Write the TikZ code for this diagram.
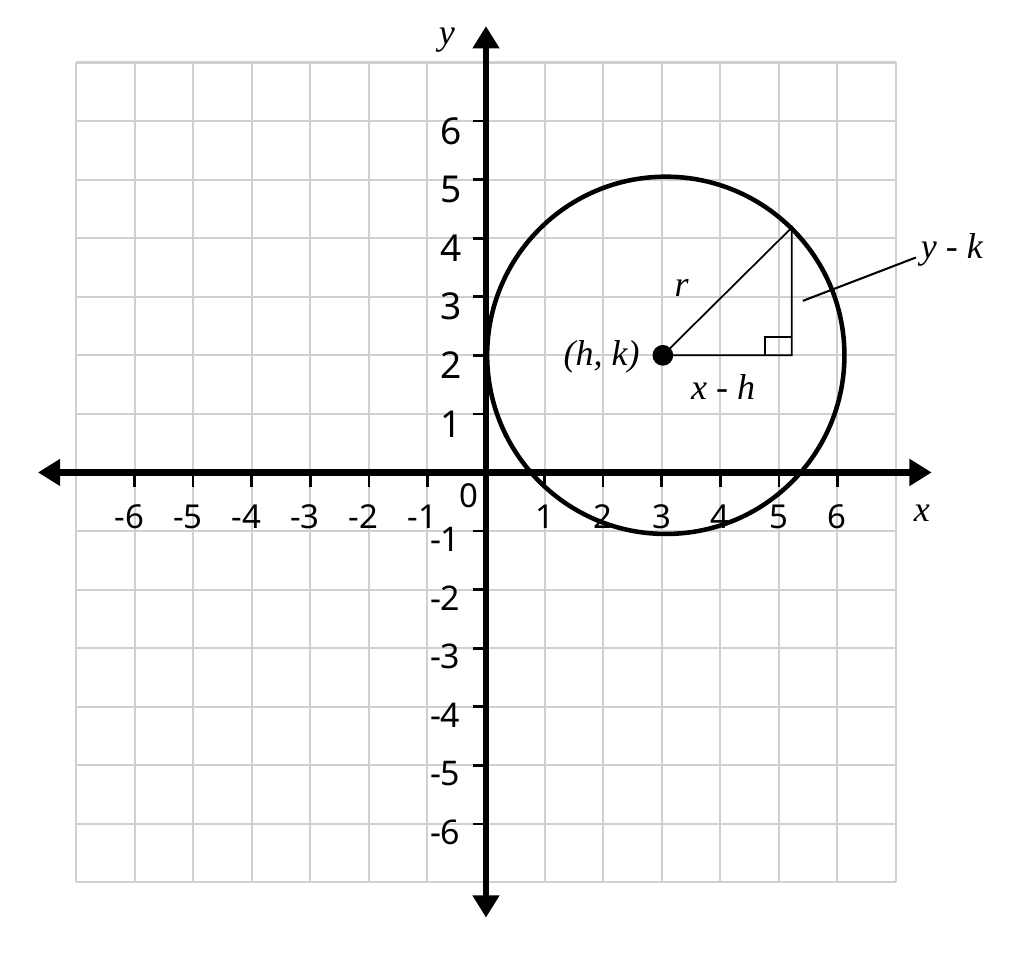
\documentclass[tikz,border=0pt]{standalone}
\usepackage{fontspec}
\setmainfont{Liberation Serif}
\newfontfamily\numfont{Noto Sans}
\usetikzlibrary{arrows.meta}
\definecolor{gridgray}{RGB}{208,208,208}
\begin{document}
\begin{tikzpicture}[
  gridline/.style={draw=gridgray, line width=1pt},
  axisline/.style={line width=3pt, {Triangle[length=0.38cm,width=0.44cm]}-{Triangle[length=0.38cm,width=0.44cm]}},
  tickmark/.style={line width=1.3pt},
  circ/.style={line width=2.2pt},
  thinline/.style={line width=0.85pt},
  xnum/.style={font=\numfont\fontsize{16}{18}\selectfont, inner sep=0pt},
  ypnum/.style={font=\numfont\fontsize{18}{20}\selectfont, inner sep=0pt, anchor=east},
  ynnum/.style={font=\numfont\fontsize{16.5}{18}\selectfont, inner sep=0pt, anchor=east},
  lbl/.style={font=\itshape\fontsize{17.5}{19}\selectfont, inner sep=0pt}
]
\useasboundingbox (-8.298,-8.272) rectangle (9.186,8.067);
% grid
\draw[gridline] (-7,-7) grid (7,7);
% circle
\draw[circ] (3.07,2) circle (3.05);
% ticks
\foreach \i in {-6,...,-1,1,2,...,6} {
  \draw[tickmark] (\i,0) -- (\i,-0.24);
  \draw[tickmark] (0,\i) -- (-0.22,\i);
}
% axes
\coordinate (xl) at (-7.65,0);
\coordinate (xr) at (7.61,0);
\coordinate (yb) at (0,-7.6);
\coordinate (yt) at (0,7.62);
\draw[axisline] (xl) -- (xr);
\draw[axisline] (yb) -- (yt);
% tick labels
\foreach \i in {1,...,6} {
  \node[xnum] (xp\i) at (\i,-0.76) {\i};
  \node[xnum] (xn\i) at (-\i,-0.76) {\llap{-}\i};
  \node[ypnum] (yp\i) at (-0.40,{\i-0.17}) {\i};
  \node[ynnum] (yn\i) at (-0.43,{-\i-0.14}) {-\i};
}
\node[xnum] (zero) at (-0.30,-0.40) {0};
% axis names
\node[lbl] (ylab) at (-0.67,7.39) {y};
\node[lbl] (xlab) at (7.44,-0.69) {x};
% centre, radius triangle
\node[circle, fill, inner sep=0pt, minimum size=0.354cm] (ctr) at (3.02,2) {};
\coordinate (corner) at (5.22,2);
\coordinate (top) at (5.22,4.18);
\draw[thinline] (ctr.center) -- (top) -- (corner) -- (ctr.center);
\coordinate (boxa) at (4.76,2);
\coordinate (boxb) at (4.76,2.31);
\coordinate (boxc) at (5.22,2.31);
\draw[thinline] (boxa) -- (boxb) -- (boxc);
% labels
\node[lbl] (hk) at (1.975,1.98) {(h, k)};
\node[lbl] (xh) at (4.05,1.46) {x - h};
\node[lbl] (rlab) at (3.34,3.15) {r};
\node[lbl, anchor=west] (yk) at (7.42,3.80) {y - k};
\coordinate (leadstart) at (5.41,2.93);
\coordinate (leadend) at (7.34,3.67);
\draw[line width=1pt] (leadstart) -- (leadend);
\end{tikzpicture}
\end{document}
